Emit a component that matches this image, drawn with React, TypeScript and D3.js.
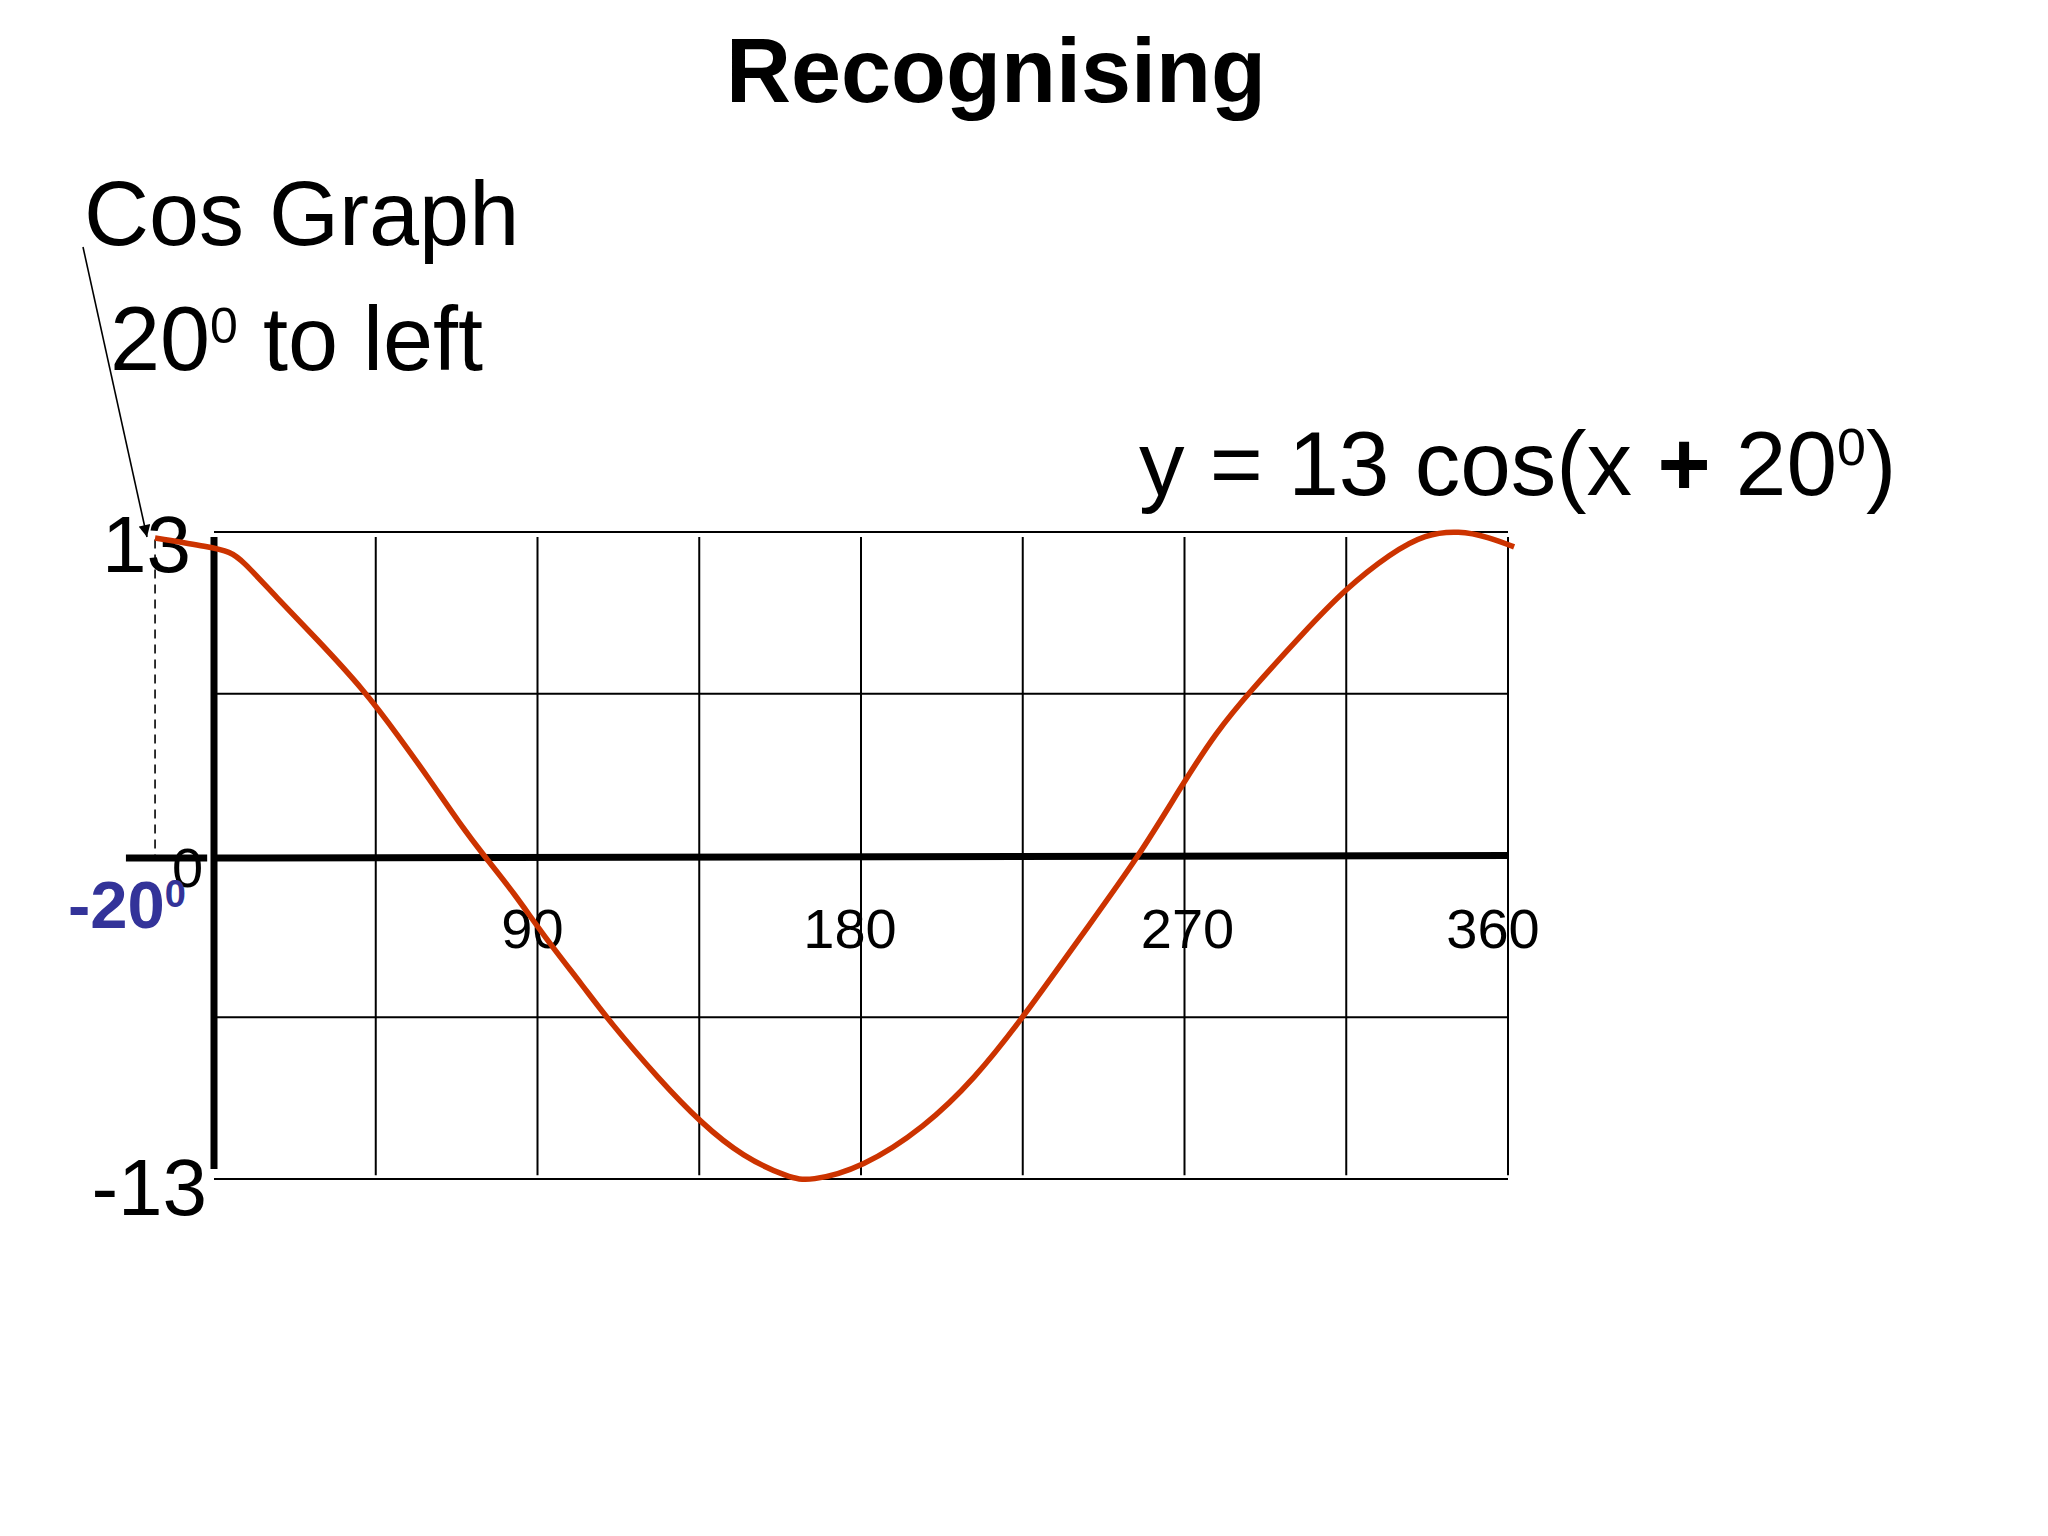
import React, { useEffect } from "react";
import * as d3 from "d3";

// curve (degrees, value)
const curveDeg = [
  -16.4, -1.1, 4.5, 7.8, 17.5, 28.1, 42.0, 51.5, 60.1, 68.4, 75.4, 83.5, 91.8,
  102.7, 109.9, 123.8, 135.5, 147.2, 160.0, 165.6, 180.3, 197.8, 211.5, 224.8,
  241.2, 257.4, 269.3, 278.8, 288.3, 303.0, 314.7, 327.5, 337.0, 346.4, 354.5,
  361.7,
];
const curveVal = [
  12.76, 12.4, 12.2, 11.88, 10.35, 8.78, 6.61, 4.76, 3.03, 1.27, -0.06, -1.51,
  -3.24, -5.25, -6.65, -8.99, -10.75, -12.12, -12.95, -13.1, -12.56, -10.91,
  -8.99, -6.57, -3.24, -0.02, 2.83, 4.96, 6.61, 8.94, 10.71, 12.16, 12.92, 13.05,
  12.8, 12.4,
];

const gridDeg = [45, 90, 135, 180, 225, 270, 315, 360];
const gridVal = [13, 6.5, -6.5, -13];
const xTicks = [90, 180, 270, 360];
const xTickShift = [-5, -11, 3, -15];
const shiftDeg = -16.4; // where the "-20" marker sits on the drawing

const W = 2048;
const H = 1536;
const FONT = "'Liberation Sans', Arial, sans-serif";

const App = () => {
  useEffect(() => {
    document.body.style.margin = "0";
  }, []);

  const x = d3.scaleLinear().domain([0, 360]).range([214, 1508]);
  const y = d3.scaleLinear().domain([-13, 13]).range([1179, 532]);

  const pts = curveDeg.map((d, i) => [d, curveVal[i]] as [number, number]);
  const line = d3
    .line<[number, number]>()
    .x((d) => x(d[0]))
    .y((d) => y(d[1]))
    .curve(d3.curveBasis);

  return (
    <svg width={W} height={H} style={{ position: "absolute", left: 0, top: 0 }}>
      <defs>
        <marker
          id="head"
          viewBox="0 0 10 10"
          refX="10"
          refY="5"
          markerWidth="14"
          markerHeight="12"
          orient="auto"
          markerUnits="userSpaceOnUse"
        >
          <path d="M0,0 L10,5 L0,10 z" fill="#000" />
        </marker>
      </defs>
      <rect width={W} height={H} fill="#fff" />

      {/* title + notes */}
      <text x={996} y={102} textAnchor="middle" fontFamily={FONT} fontWeight="bold" fontSize={90}>
        Recognising
      </text>
      <text x={84} y={245} fontFamily={FONT} fontSize={90}>
        Cos Graph
      </text>
      <text x={110} y={370} fontFamily={FONT} fontSize={90}>
        20<tspan fontSize={50} dy={-27}>0</tspan>
        <tspan dy={27}> to left</tspan>
      </text>
      <text x={1139} y={495} fontFamily={FONT} fontSize={91}>
        y = 13 cos(x <tspan fontWeight="bold">+</tspan> 20
        <tspan fontSize={52} dy={-30}>0</tspan>
        <tspan dy={30}>)</tspan>
      </text>

      {/* grid */}
      <g stroke="#000" strokeWidth={2}>
        {gridVal.map((v) => (
          <line key={"h" + v} x1={x(0)} x2={x(360)} y1={y(v)} y2={y(v)} />
        ))}
        {gridDeg.map((d) => (
          <line key={"v" + d} x1={x(d)} x2={x(d)} y1={y(12.8)} y2={y(-12.85)} />
        ))}
      </g>

      {/* axes */}
      <g stroke="#000" strokeWidth={7}>
        <line x1={x(0)} x2={x(0)} y1={y(12.8)} y2={y(-12.6)} />
        <line x1={x(0)} x2={x(360)} y1={y(-0.1)} y2={y(0)} />
        <line x1={x(-24.5)} x2={x(-1.9)} y1={y(-0.1)} y2={y(-0.1)} />
      </g>

      {/* shift marker */}
      <line
        x1={x(shiftDeg)}
        x2={x(shiftDeg)}
        y1={y(12.7)}
        y2={y(0)}
        stroke="#000"
        strokeWidth={1.6}
        strokeDasharray="9 6"
      />
      <line x1={83} y1={247} x2={147} y2={537} stroke="#000" strokeWidth={1.6} markerEnd="url(#head)" />

      {/* tick labels */}
      <g fontFamily={FONT} fill="#000">
        <text x={191} y={y(13) + 40} textAnchor="end" fontSize={80}>
          13
        </text>
        <text x={207} y={y(-13) + 36} textAnchor="end" fontSize={80}>
          -13
        </text>
        <text x={172} y={y(0) + 31} fontSize={56}>
          0
        </text>
        {xTicks.map((t, i) => (
          <text key={t} x={x(t) + xTickShift[i]} y={948} textAnchor="middle" fontSize={56}>
            {t}
          </text>
        ))}
      </g>
      <text x={68} y={928} fontFamily={FONT} fontWeight="bold" fontSize={67} fill="#333399">
        -20<tspan fontSize={38} dy={-21}>0</tspan>
      </text>

      {/* the curve */}
      <path d={line(pts) ?? ""} fill="none" stroke="#cc3300" strokeWidth={5.5} strokeLinejoin="round" />
    </svg>
  );
};

export default App;
